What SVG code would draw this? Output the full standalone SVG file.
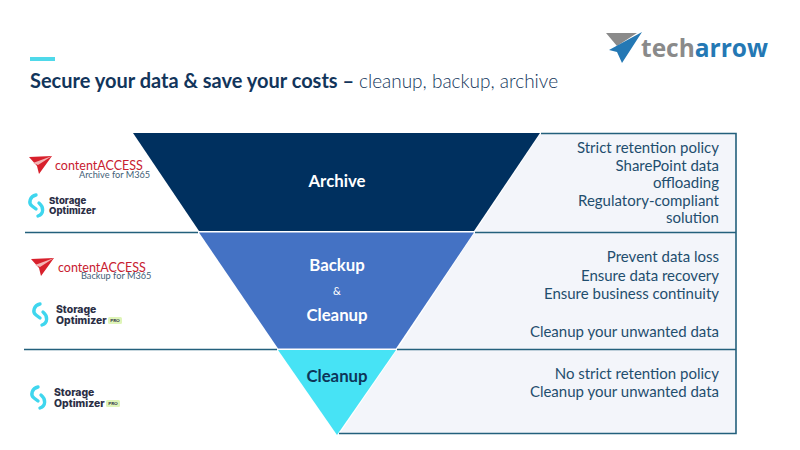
<svg xmlns="http://www.w3.org/2000/svg" width="800" height="450" viewBox="0 0 800 450">
<style>
text{font-family:Lato,"Liberation Sans",sans-serif}
.r{fill:#1f4e6e;font-size:15px;text-anchor:end}
.c{font-weight:700;font-size:16.8px;text-anchor:middle}
.ca{fill:#c8202f;font-size:12.5px}
.sub{fill:#3f6077;font-size:9.2px}
.so{fill:#2b2e45;font-size:9.6px;font-weight:800;font-family:Inter,Lato,sans-serif}
.so2{font-size:10.4px}
.pro{fill:#2b2e45;font-size:4.5px;font-weight:900;text-anchor:middle}
.ln{stroke:#23607c;stroke-width:1.6;fill:none}
</style>
<defs>
<g id="plane"><path d="M0 0L23 -1L10 17L8 9Z" fill="#d8202c"/><path d="M4 6L23 -1L9 8Z" fill="#f3b5b5"/></g>
<g id="s"><path d="M7 -10C1 -9 -1 -2 3 1L7 4" fill="none" stroke="#3fd6ee" stroke-width="3.4" stroke-linecap="round"/><path d="M10 -2C15 2 15 9 9 11" fill="none" stroke="#3fd6ee" stroke-width="3.4" stroke-linecap="round"/></g>
<g id="tag"><rect x="0" y="0" width="14" height="7" rx="1.5" fill="#dff5b8"/><text class="pro" x="7" y="5.2">PRO</text></g>
</defs>
<rect width="800" height="450" fill="#fff"/>
<g id="header">
<rect x="30" y="57" width="25" height="4" fill="#4fd9ea"/>
<text x="30" y="88" font-size="20" font-weight="700" fill="#12355b">Secure your data &amp; save your costs – <tspan font-weight="300" font-size="19" fill="#12355b">cleanup, backup, archive</tspan></text>
</g>
<g id="techarrow-logo">
<path d="M606 33L637 33L617 46Z" fill="#8a8a8a"/>
<path d="M609 50L642 32L622 63L617 52Z" fill="#2478b4"/>
<text x="641" y="57" font-size="24.5" font-weight="700" fill="#8a8a8a" style="font-family:'Open Sans',sans-serif">tech<tspan fill="#2478b4">arrow</tspan></text>
</g>
<g id="panels">
<path d="M541 133H736V433H340L397 350L475 232Z" fill="#f3f5fa"/>
</g>
<g id="connectors">
<path class="ln" d="M541 133.500H736V433.500H339"/>
<path class="ln" d="M25 232.500H198M475 232.500H736"/>
<path class="ln" d="M24 349.500H277M397 349.500H736"/>
</g>
<g id="archive">
<path d="M133 133H540L474 231H199Z" fill="#00305f"/>
<text class="c" x="337" y="187" fill="#fff">Archive</text>
</g>
<g id="backup">
<path d="M199 232.500H474L396 348.500H278Z" fill="#4472c4"/>
<text class="c" x="337" y="271" fill="#fff">Backup</text>
<text x="337" y="295" font-size="11" text-anchor="middle" fill="#fff">&amp;</text>
<text class="c" x="337" y="321" fill="#fff">Cleanup</text>
</g>
<g id="cleanup">
<path d="M278 350H396L337 435Z" fill="#47e3f5"/>
<text class="c" x="337" y="382" fill="#0d3558">Cleanup</text>
</g>
<g id="archive-text">
<text class="r" x="719" y="153">Strict retention policy</text>
<text class="r" x="719" y="171">SharePoint data</text>
<text class="r" x="719" y="188">offloading</text>
<text class="r" x="719" y="206">Regulatory-compliant</text>
<text class="r" x="719" y="223">solution</text>
</g>
<g id="backup-text">
<text class="r" x="719" y="262">Prevent data loss</text>
<text class="r" x="719" y="281">Ensure data recovery</text>
<text class="r" x="719" y="299">Ensure business continuity</text>
<text class="r" x="719" y="337">Cleanup your unwanted data</text>
</g>
<g id="cleanup-text">
<text class="r" x="719" y="379">No strict retention policy</text>
<text class="r" x="719" y="397">Cleanup your unwanted data</text>
</g>
<g id="logos-archive">
<use href="#plane" x="29" y="157"/>
<text class="ca" x="55" y="170">contentACCESS</text>
<text class="sub" x="79" y="178">Archive for M365</text>
<use href="#s" x="29" y="205"/>
<text class="so" x="49" y="204">Storage</text>
<text class="so" x="49" y="214">Optimizer</text>
</g>
<g id="logos-backup">
<use href="#plane" x="31" y="259"/>
<text class="ca" x="58" y="272">contentACCESS</text>
<text class="sub" x="81" y="279">Backup for M365</text>
<use href="#s" x="33" y="314"/>
<text class="so so2" x="56" y="313">Storage</text>
<text class="so so2" x="56" y="324">Optimizer</text>
<use href="#tag" x="108" y="317"/>
</g>
<g id="logos-cleanup">
<use href="#s" x="31" y="397"/>
<text class="so so2" x="54" y="396">Storage</text>
<text class="so so2" x="54" y="407">Optimizer</text>
<use href="#tag" x="106" y="400"/>
</g>
</svg>
